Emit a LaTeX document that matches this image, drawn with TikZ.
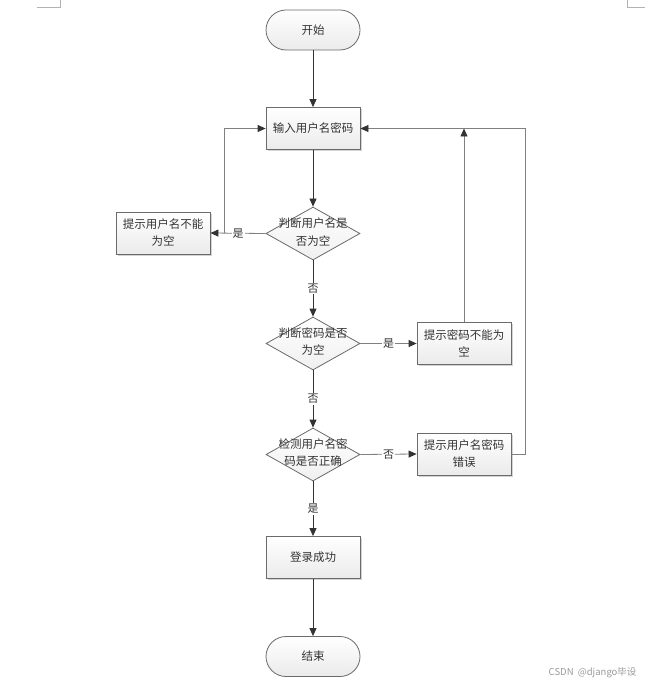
\documentclass[tikz,border=0pt]{standalone}
\usepackage{fontspec}
\setmainfont{Noto Sans CJK SC}
\usetikzlibrary{arrows.meta,shapes.geometric,shadows}
\definecolor{darkline}{HTML}{333333}
\definecolor{fbline}{HTML}{808080}
\definecolor{boxline}{HTML}{6B6B6B}
\definecolor{txt}{HTML}{333333}
\tikzset{
  base/.style={draw=boxline, line width=0.8pt, top color=white, bottom color=black!8,
    minimum width=94pt, inner sep=1pt, align=center, text=txt,
    font=\fontsize{11.5}{17}\selectfont},
  procbox/.style={base, rectangle, minimum height=42pt,
    drop shadow={shadow xshift=1.6pt, shadow yshift=-1.6pt, opacity=0.35}},
  termbox/.style={base, rectangle, rounded corners=20pt, minimum height=40pt},
  decbox/.style={draw=boxline, line width=0.8pt, top color=white, bottom color=black!6,
    diamond, minimum width=94pt, minimum height=53pt, inner sep=0pt},
  dectext/.style={align=center, text=txt, font=\fontsize{11.5}{17.5}\selectfont},
  mainarrow/.style={draw=darkline, line width=0.8pt, -{Triangle[length=8pt,width=7pt]}},
  fbarrow/.style={draw=fbline, line width=0.8pt, -{Triangle[length=8pt,width=7pt,color=darkline]}},
  fbline/.style={draw=fbline, line width=0.8pt},
  lbl/.style={fill=white, inner sep=1pt, text=txt, font=\fontsize{11}{13}\selectfont},
  cornermark/.style={draw=black!30, line width=0.6pt}
}
\begin{document}
\begin{tikzpicture}[x=1pt,y=-1pt]
\useasboundingbox (0,0) rectangle (645,684);
% corner marks
\draw[cornermark] (37,7) -- (60.5,7) -- (60.5,0);
\draw[cornermark] (627,0) -- (627,7.5) -- (645,7.5);

\node[termbox] (start) at (313,30) {开始};
\node[procbox] (in) at (313,128.5) {输入用户名密码};
\node[decbox] (d1) at (313,233.5) {};
\node[dectext] (t1) at (313,232) {判断用户名是\\否为空};
\node[procbox] (e1) at (163,233) {提示用户名不能\\为空};
\node[decbox] (d2) at (313,343.5) {};
\node[dectext] (t2) at (313,341.5) {判断密码是否\\为空};
\node[procbox] (e2) at (464,343.5) {提示密码不能为\\空};
\node[decbox] (d3) at (313,454.5) {};
\node[dectext] (t3) at (313,452.5) {检测用户名密\\码是否正确};
\node[procbox] (e3) at (464,454) {提示用户名密码\\错误};
\node[procbox] (ok) at (313,557.5) {登录成功};
\node[termbox] (end) at (313,656.5) {结束};

\coordinate (j1) at (224,233.5);
\coordinate (j3) at (525,128.5);

\draw[mainarrow] (start.south) -- (in.north);
\draw[mainarrow] (in.south) -- (d1.north);
\draw[fbarrow] (d1.west) -- node[lbl, pos=0.5] {是} (e1.east);
\draw[fbarrow] (j1) |- (in.west);
\draw[mainarrow] (d1.south) -- node[lbl] {否} (d2.north);
\draw[fbarrow] (d2.east) -- node[lbl] {是} (e2.west);
\draw[fbarrow] (e2.north) -- (e2.north |- in.east);
\draw[fbline] (e3.east) -| (j3);
\draw[fbarrow] (j3) -- (in.east);
\draw[mainarrow] (d2.south) -- node[lbl] {否} (d3.north);
\draw[fbarrow] (d3.east) -- node[lbl] {否} (e3.west);
\draw[mainarrow] (d3.south) -- node[lbl] {是} (ok.north);
\draw[mainarrow] (ok.south) -- (end.north);

\node[anchor=east, text=black!40, font=\fontsize{9.5}{11}\selectfont] (wm) at (640,673) {CSDN\ \ @django毕设};
\end{tikzpicture}
\end{document}
